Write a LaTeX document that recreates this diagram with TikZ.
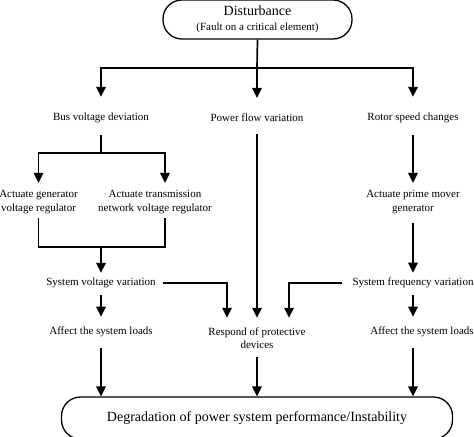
\documentclass[tikz,border=0pt]{standalone}
\usepackage{fontspec}
\setmainfont{Liberation Serif}
\usetikzlibrary{arrows.meta,calc}
\begin{document}
\begin{tikzpicture}[x=1bp,y=-1bp,
  lbl/.style={font=\fontsize{11bp}{13.2bp}\selectfont, inner sep=0pt, align=center},
  arr/.style={line width=1.7bp, -{Triangle[width=9.5bp,length=10bp]}},
  ln/.style={line width=1.7bp},
  frame/.style={draw, line width=1.3bp, rounded corners=19bp, inner sep=0pt, align=center}]
\useasboundingbox (0,0) rectangle (474,437);
\clip (0,0) rectangle (474,437);

\node[frame, minimum width=189bp, minimum height=39bp, font=\fontsize{11bp}{15bp}\selectfont] (top) at (257.5,19.5)
  {{\fontsize{14bp}{15bp}\selectfont Disturbance}\\(Fault on a critical element)};
\node[frame, minimum width=391bp, minimum height=42bp, font=\fontsize{14bp}{16bp}\selectfont] (degr) at (257,418)
  {Degradation of power system performance/Instability};

\node[lbl] (bus) at (101,118) {Bus voltage deviation};
\node[lbl] (pfv) at (257,118) {Power flow variation};
\node[lbl] (rotor) at (413,118) {Rotor speed changes};
\node[lbl] (agen) at (38.5,202) {Actuate generator\\voltage regulator};
\node[lbl] (atrans) at (155,202) {Actuate transmission\\network voltage regulator};
\node[lbl] (aprime) at (413,202) {Actuate prime mover\\generator};
\node[lbl] (svv) at (101,283) {System voltage variation};
\node[lbl] (sfv) at (413,283) {System frequency variation};
\node[lbl] (asl1) at (101,332) {Affect the system loads};
\node[lbl] (resp) at (257,338.5) {Respond of protective\\devices};
\node[lbl] (asl2) at (422,332) {Affect the system loads};

\coordinate (j1) at (257,68);
\coordinate (j2) at (101,153);
\coordinate (j3) at (101,247);

\draw[ln] (top.south) -- (j1);
\draw[arr, shorten >=16bp] (j1) -| (bus.north);
\draw[arr, shorten >=16bp] (j1) -| (rotor.north);
\draw[arr, shorten >=16bp] (j1) -- (pfv.north);

\draw[ln, shorten <=12bp] (bus.south) -- (j2);
\draw[arr, shorten >=7.5bp] (j2) -| (agen.north);
\draw[arr, shorten >=7.5bp] (j2) -| ([xshift=10bp]atrans.north);
\draw[ln, shorten <=4bp, shorten >=4bp] (agen.south) |- (j3) -| ([xshift=10bp]atrans.south);
\draw[arr, shorten >=5bp] (j3) -- (svv.north);

\draw[arr, shorten <=7bp, shorten >=10bp] (svv.east) -| ([xshift=-30bp]resp.north);
\draw[arr, shorten <=12bp, shorten >=10bp] (pfv.south) -- (resp.north);
\draw[arr, shorten <=10bp, shorten >=10bp] (sfv.west) -| ([xshift=32bp]resp.north);

\draw[arr, shorten <=12bp, shorten >=7.5bp] (rotor.south) -- (aprime.north);
\draw[arr, shorten <=9bp, shorten >=5bp] (aprime.south) -- (sfv.north);

\draw[arr, shorten <=7bp, shorten >=10bp] (svv.south) -- (asl1.north);
\draw[arr, shorten <=7bp, shorten >=10bp] (sfv.south) -- (sfv.south |- asl2.north);

\draw[arr, shorten <=11bp] (asl1.south) -- (asl1.south |- degr.north);
\draw[arr, shorten <=8bp] (resp.south) -- (degr.north);
\draw[arr, shorten <=11bp] (sfv.south |- asl2.south) -- (sfv.south |- degr.north);
\end{tikzpicture}
\end{document}
